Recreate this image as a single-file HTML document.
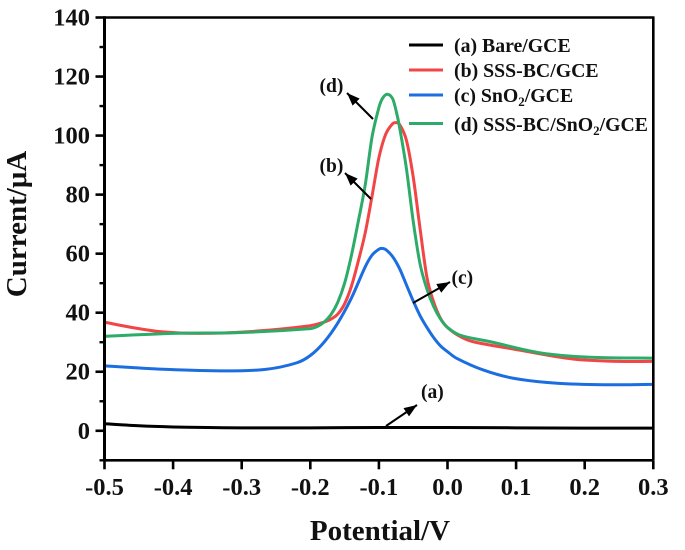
<!DOCTYPE html>
<html>
<head>
<meta charset="utf-8">
<style>
html,body{margin:0;padding:0;background:#fff;}
svg{display:block;font-family:"Liberation Serif",serif;font-weight:bold;fill:#111;}
.tick{font-size:24.5px;}
.leg{font-size:19.8px;}
.note{font-size:19.5px;}
.title{font-size:29px;}
</style>
</head>
<body>
<svg id="chart" width="685" height="550" viewBox="0 0 685 550" xmlns="http://www.w3.org/2000/svg">
  <defs>
    <marker id="arrowhead" markerUnits="userSpaceOnUse" markerWidth="14" markerHeight="12" refX="13" refY="5" orient="auto">
      <path d="M0,0 L13,5 L0,10 Z" fill="#000"></path>
    </marker>
  </defs>
  <g id="series-layer" fill="none"></g>
  <g id="axis-layer"></g>

  <text class="title" x="380" y="540" text-anchor="middle">Potential/V</text>
  <text class="title" transform="translate(26,224) rotate(-90)" text-anchor="middle">Current/μA</text>

  <g>
    <line x1="409" x2="443" y1="45" y2="45" stroke="#000" stroke-width="3"></line>
    <text class="leg" x="454" y="52">(a) Bare/GCE</text>
    <line x1="409" x2="443" y1="70" y2="70" stroke="#f24545" stroke-width="3"></line>
    <text class="leg" x="454" y="77">(b) SSS-BC/GCE</text>
    <line x1="409" x2="443" y1="95" y2="95" stroke="#1c6ee0" stroke-width="3"></line>
    <text class="leg" x="454" y="102">(c) SnO<tspan font-size="13" dy="4">2</tspan><tspan dy="-4">/GCE</tspan></text>
    <line x1="409" x2="443" y1="123.5" y2="123.5" stroke="#2dab69" stroke-width="3"></line>
    <text class="leg" x="454" y="131">(d) SSS-BC/SnO<tspan font-size="13" dy="4">2</tspan><tspan dy="-4">/GCE</tspan></text>
  </g>

  <g stroke="#000" stroke-width="2">
    <line x1="373" y1="119" x2="347" y2="93" marker-end="url(#arrowhead)"></line>
    <line x1="371" y1="199" x2="345" y2="173" marker-end="url(#arrowhead)"></line>
    <line x1="413" y1="303" x2="450" y2="282" marker-end="url(#arrowhead)"></line>
    <line x1="386" y1="426" x2="417" y2="405" marker-end="url(#arrowhead)"></line>
  </g>
  <text class="note" x="319.5" y="92">(d)</text>
  <text class="note" x="319.5" y="172">(b)</text>
  <text class="note" x="451.5" y="284">(c)</text>
  <text class="note" x="421" y="398">(a)</text>
</svg>

<script>
var xTicks = [-0.5, -0.4, -0.3, -0.2, -0.1, 0.0, 0.1, 0.2, 0.3];
var yTicks = [0, 20, 40, 60, 80, 100, 120, 140];
var yMinorTicks = [-10, 10, 30, 50, 70, 90, 110, 130];
var xDomain = [-0.5, 0.3];
var yDomain = [-10, 140];

var potentialA = [-0.5, -0.45, -0.4, -0.35, -0.3, -0.2, -0.1, 0, 0.1, 0.2, 0.3];
var currentA = [2.4, 1.7, 1.3, 1.1, 1.0, 1.0, 1.1, 1.1, 1.0, 0.9, 0.9];

var potentialB = [-0.5, -0.46, -0.419, -0.361, -0.288, -0.2, -0.18, -0.17, -0.16, -0.15, -0.14, -0.13, -0.12, -0.11, -0.1, -0.09, -0.08, -0.075, -0.07, -0.06, -0.05, -0.04, -0.03, -0.02, -0.01, 0, 0.018, 0.037, 0.096, 0.183, 0.25, 0.3];
var currentB = [36.8, 35, 33.6, 33, 33.6, 35.6, 36.8, 37.8, 39.5, 43, 49, 57.5, 67, 79.5, 92.5, 100.5, 104, 104.4, 103.8, 98.5, 86, 68.5, 52, 43.5, 38, 35, 32, 30.2, 27.7, 24.3, 23.5, 23.5];

var potentialC = [-0.5, -0.409, -0.323, -0.265, -0.22, -0.2, -0.18, -0.16, -0.14, -0.12, -0.11, -0.1, -0.096, -0.09, -0.08, -0.07, -0.06, -0.05, -0.04, -0.03, -0.02, -0.01, 0, 0.013, 0.052, 0.096, 0.16, 0.232, 0.3];
var currentC = [22, 20.8, 20.3, 20.8, 23, 25.5, 30, 36.5, 45, 55.5, 59.5, 61.5, 61.8, 61.4, 59, 55, 49.5, 44, 39, 35, 31.5, 28.7, 26.8, 24.6, 20.6, 17.8, 16.1, 15.6, 15.7];

var potentialD = [-0.5, -0.4, -0.3, -0.2, -0.19, -0.18, -0.17, -0.16, -0.15, -0.14, -0.13, -0.12, -0.11, -0.1, -0.095, -0.088, -0.08, -0.075, -0.07, -0.06, -0.05, -0.04, -0.03, -0.02, -0.01, 0, 0.018, 0.062, 0.135, 0.208, 0.3];
var currentD = [32, 33, 33.3, 34.6, 35.3, 36.8, 39.3, 43.5, 50, 59.5, 71, 83.2, 99.5, 109.5, 112.5, 114, 112.5, 108.5, 103, 89, 71, 56.5, 48, 42, 37.8, 35, 32.4, 30.2, 26.4, 24.9, 24.6];

var plotLeft = 104.5, plotRight = 653.3, plotTop = 17.5, plotBottom = 460.3;
var NS = 'http://www.w3.org/2000/svg';

function xScale(v) {
  return plotLeft + (v - xDomain[0]) / (xDomain[1] - xDomain[0]) * (plotRight - plotLeft);
}
function yScale(v) {
  return plotBottom - (v - yDomain[0]) / (yDomain[1] - yDomain[0]) * (plotBottom - plotTop);
}
function curvePath(xs, ys) {
  var p = xs.map(function (x, i) { return [xScale(x), yScale(ys[i])]; });
  var d = 'M' + p[0][0].toFixed(2) + ',' + p[0][1].toFixed(2);
  for (var i = 0; i < p.length - 1; i++) {
    var p0 = p[Math.max(i - 1, 0)], p1 = p[i], p2 = p[i + 1], p3 = p[Math.min(i + 2, p.length - 1)];
    var h = (p2[0] - p1[0]);
    var m1 = (p2[1] - p0[1]) / ((p2[0] - p0[0]) || 1);
    var m2 = (p3[1] - p1[1]) / ((p3[0] - p1[0]) || 1);
    d += ' C' + (p1[0] + h / 3).toFixed(2) + ',' + (p1[1] + m1 * h / 3).toFixed(2) +
         ' ' + (p2[0] - h / 3).toFixed(2) + ',' + (p2[1] - m2 * h / 3).toFixed(2) +
         ' ' + p2[0].toFixed(2) + ',' + p2[1].toFixed(2);
  }
  return d;
}

var seriesLayer = document.getElementById('series-layer');
var axisLayer = document.getElementById('axis-layer');

function addSeries(name, xs, ys, color) {
  var el = document.createElementNS(NS, 'path');
  
  
  el.setAttribute('d', curvePath(xs, ys));
  el.setAttribute('stroke', color);
  el.setAttribute('stroke-width', '3');
  el.setAttribute('stroke-linejoin', 'round');
  el.setAttribute('fill', 'none');
  seriesLayer.appendChild(el);
}
addSeries('series-a-bare-gce', potentialA, currentA, '#000000');
addSeries('series-b-sss-bc-gce', potentialB, currentB, '#f24545');
addSeries('series-c-sno2-gce', potentialC, currentC, '#1c6ee0');
addSeries('series-d-sss-bc-sno2-gce', potentialD, currentD, '#2dab69');

function addLine(name, x1, y1, x2, y2, width) {
  var el = document.createElementNS(NS, 'line');
  
  
  el.setAttribute('x1', x1);
  el.setAttribute('y1', y1);
  el.setAttribute('x2', x2);
  el.setAttribute('y2', y2);
  el.setAttribute('stroke', '#000');
  el.setAttribute('stroke-width', width);
  axisLayer.appendChild(el);
}
function addLabel(name, x, y, anchor, str) {
  var el = document.createElementNS(NS, 'text');
  
  
  el.setAttribute('class', 'tick');
  el.setAttribute('x', x);
  el.setAttribute('y', y);
  el.setAttribute('text-anchor', anchor);
  el.textContent = str;
  axisLayer.appendChild(el);
}

addLine('left-axis', plotLeft, plotTop - 1.2, plotLeft, plotBottom + 1.2, 3);
addLine('bottom-axis', plotLeft, plotBottom, plotRight, plotBottom, 2.6);
addLine('top-frame', plotLeft, plotTop, plotRight + 1.2, plotTop, 2.6);
addLine('right-frame', plotRight, plotTop, plotRight, plotBottom, 2.6);

xTicks.forEach(function (v) {
  var x = xScale(v);
  addLine('x-tick', x, plotBottom, x, plotBottom + 9, 2.6);
  addLabel('x-tick-label', x, 495, 'middle', v.toFixed(1));
});
yTicks.forEach(function (v) {
  var y = yScale(v);
  addLine('y-tick', plotLeft, y, plotLeft - 9, y, 2.6);
  addLabel('y-tick-label', 90, y + 8, 'end', String(v));
});
yMinorTicks.forEach(function (v) {
  var y = yScale(v);
  addLine('y-minor-tick', plotLeft, y, plotLeft - 5, y, 2.4);
});
</script>
</body>
</html>
